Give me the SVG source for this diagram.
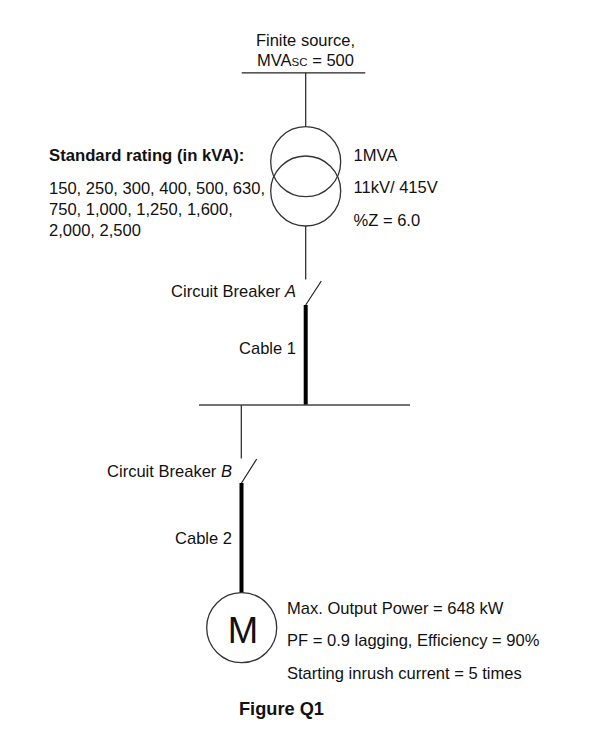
<svg xmlns="http://www.w3.org/2000/svg" width="608" height="754" viewBox="0 0 608 754">
<style>
text{font-family:"Liberation Sans",Arial,sans-serif;font-size:16.55px;fill:#111}
.b{font-weight:bold;font-size:16.7px}
.e{text-anchor:end}
.m{text-anchor:middle}
.w{fill:none;stroke:#222;stroke-width:1.2}
.t{fill:none;stroke:#000;stroke-width:4}
.n{fill:none;stroke:#333;stroke-width:1.3}
</style>
<rect width="608" height="754" fill="#fff"/>
<g id="connectors">
<path class="w" d="M305.7 73V127M305.7 226V279.5M241.3 405V458.5"/>
<path class="w" d="M321.3 281L305.7 305M256.7 459L241.5 483"/>
<path class="t" d="M305.7 305V405M241.5 483V593"/>
</g>
<g id="source">
<path class="w" d="M241.7 72.8H365.3"/>
<text x="305.5" y="46" class="m">Finite source,</text>
<text x="305.5" y="66" class="m">MVA<tspan font-size="11.5">SC</tspan> = 500</text>
</g>
<g id="transformer">
<circle class="n" cx="305.7" cy="161.7" r="35"/>
<circle class="n" cx="305.7" cy="191" r="35"/>
<text x="353.5" y="160.5">1MVA</text>
<text x="353.5" y="193">11kV/ 415V</text>
<text x="353.5" y="225.5">%Z = 6.0</text>
</g>
<g id="ratings">
<text x="49" y="161" class="b">Standard rating (in kVA):</text>
<text x="49" y="193.5">150, 250, 300, 400, 500, 630,</text>
<text x="49" y="214.5">750, 1,000, 1,250, 1,600,</text>
<text x="49" y="235.5">2,000, 2,500</text>
</g>
<g id="breaker-a"><text x="296" y="296.5" class="e">Circuit Breaker <tspan font-style="italic">A</tspan></text></g>
<g id="cable-1"><text x="296" y="354" class="e">Cable 1</text></g>
<g id="bus"><path d="M199 405H410" fill="none" stroke="#444" stroke-width="1.3"/></g>
<g id="breaker-b"><text x="232" y="476.5" class="e">Circuit Breaker <tspan font-style="italic">B</tspan></text></g>
<g id="cable-2"><text x="232" y="544" class="e">Cable 2</text></g>
<g id="motor">
<circle class="n" cx="241.7" cy="627.7" r="35"/>
<text x="243" y="642.5" class="m" style="font-size:36.5px">M</text>
</g>
<g id="motor-data">
<text x="287" y="613.5">Max. Output Power = 648 kW</text>
<text x="287" y="646">PF = 0.9 lagging, Efficiency = 90%</text>
<text x="287" y="678.5">Starting inrush current = 5 times</text>
</g>
<g id="caption"><text x="239" y="714.5" class="b" style="font-size:18.2px">Figure Q1</text></g>
</svg>
